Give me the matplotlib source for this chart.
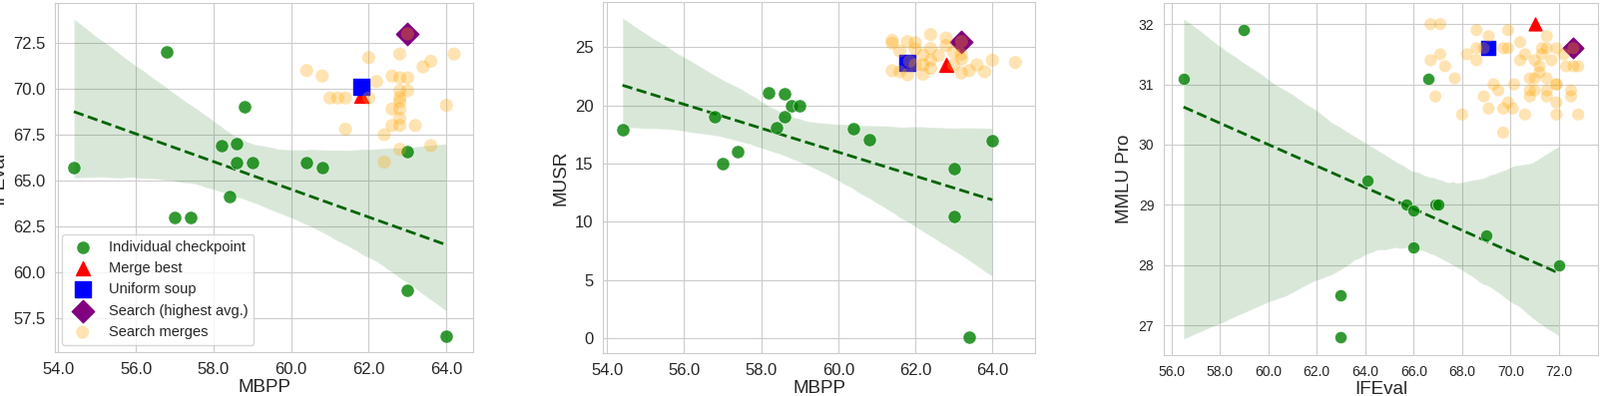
#!/usr/bin/env python3
"""
Merge search vs. individual checkpoints

Three scatter panels with a linear fit over the individual checkpoints.
"""

import matplotlib

matplotlib.use("Agg")
import matplotlib.pyplot as plt
import seaborn as sns
from matplotlib.ticker import FormatStrFormatter

# --- panel 1: MBPP vs IFEval ---
ckpt_mbpp_1 = [54.4, 56.8, 57.0, 57.4, 58.2, 58.4, 58.6, 58.6, 58.8, 59.0, 60.4, 60.8, 63.0, 63.0, 64.0]
ckpt_ifeval_1 = [65.7, 72.0, 63.0, 63.0, 66.9, 64.1, 67.0, 66.0, 69.0, 66.0, 66.0, 65.7, 66.6, 59.0, 56.5]
search_mbpp_1 = [60.4, 60.8, 62.0, 62.8, 64.2, 63.6, 63.4, 62.2, 62.6, 62.8, 63.0, 62.8, 63.0, 61.0,
                 61.2, 61.4, 62.0, 62.8, 62.8, 64.0, 62.6, 62.8, 62.8, 61.4, 62.6, 62.8, 63.2, 62.4,
                 62.8, 63.6, 62.4, 63.0]
search_ifeval_1 = [71.0, 70.7, 71.7, 71.9, 71.9, 71.5, 71.2, 70.4, 70.7, 70.6, 70.6, 69.9, 69.9, 69.5,
                   69.5, 69.5, 69.5, 69.5, 69.3, 69.1, 68.9, 68.9, 68.4, 67.8, 68.0, 68.0, 68.0, 67.5,
                   66.7, 66.9, 66.0, 73.0]
merge_best_1 = (61.8, 69.6)
uniform_soup_1 = (61.8, 70.1)
search_best_1 = (63.0, 73.0)

# --- panel 2: MBPP vs MUSR ---
ckpt_mbpp_2 = [54.4, 56.8, 57.0, 57.4, 58.2, 58.4, 58.6, 58.6, 58.8, 59.0, 60.4, 60.8, 63.0, 63.0, 63.4, 64.0]
ckpt_musr_2 = [17.9, 19.0, 15.0, 16.0, 21.1, 18.1, 21.0, 19.0, 20.0, 20.0, 18.0, 17.1, 14.6, 10.5, 0.1, 17.0]
search_mbpp_2 = [61.4, 61.4, 61.8, 62.0, 62.4, 62.8, 62.8, 62.4, 61.6, 62.0, 62.2, 62.6, 62.4, 63.0,
                 63.2, 63.2, 64.0, 64.6, 63.6, 63.8, 63.4, 63.2, 63.0, 62.4, 62.2, 62.2, 61.8, 61.6,
                 61.4, 62.0, 61.85, 63.2]
search_musr_2 = [25.6, 25.35, 25.5, 25.4, 26.1, 25.8, 25.15, 24.9, 24.7, 24.85, 24.35, 24.3, 23.9, 24.6,
                 24.4, 24.0, 23.9, 23.7, 23.5, 22.9, 23.0, 22.8, 23.5, 23.2, 22.7, 23.5, 22.65, 22.9,
                 23.0, 23.5, 23.8, 25.5]
merge_best_2 = (62.8, 23.5)
uniform_soup_2 = (61.8, 23.7)
search_best_2 = (63.2, 25.5)

# --- panel 3: IFEval vs MMLU Pro ---
ckpt_ifeval_3 = [56.5, 59.0, 63.0, 63.0, 64.1, 65.7, 66.0, 66.0, 66.6, 66.9, 67.0, 69.0, 72.0]
ckpt_mmlu_3 = [31.1, 31.9, 27.5, 26.8, 29.4, 29.0, 28.9, 28.3, 31.1, 29.0, 29.0, 28.5, 28.0]
search_ifeval_3 = [66.7, 67.1, 68.6, 69.1, 69.9, 70.4, 71.5, 68.6, 68.9, 69.7, 69.9, 71.3, 71.5, 71.9,
                   68.2, 67.1, 70.6, 71.3, 72.2, 66.7, 68.6, 70.4, 71.0, 71.7, 67.3, 71.2, 72.3, 72.6,
                   72.8, 71.2, 67.7, 70.8, 71.0, 71.5, 69.3, 70.15, 71.9, 69.5, 70.8, 71.0, 71.5, 72.5,
                   66.9, 68.9, 70.8, 71.5, 72.5, 69.9, 71.9, 69.1, 69.7, 70.1, 68.0, 70.6, 71.9, 72.8,
                   69.7, 71.9, 72.6]
search_mmlu_3 = [32.0, 32.0, 31.9, 31.8, 31.9, 31.7, 31.8, 31.6, 31.6, 31.6, 31.6, 31.6, 31.6, 31.6,
                 31.5, 31.5, 31.5, 31.5, 31.5, 31.4, 31.4, 31.4, 31.4, 31.4, 31.3, 31.3, 31.3, 31.3,
                 31.3, 31.2, 31.1, 31.1, 31.1, 31.1, 31.0, 31.0, 31.0, 30.9, 30.9, 30.9, 30.9, 30.9,
                 30.8, 30.8, 30.8, 30.8, 30.8, 30.7, 30.7, 30.6, 30.6, 30.6, 30.5, 30.5, 30.5, 30.5,
                 30.2, 31.0, 31.6]
merge_best_3 = (71.0, 32.0)
uniform_soup_3 = (69.1, 31.6)
search_best_3 = (72.6, 31.6)


def draw_panel(ax, ckpt_x, ckpt_y, search_x, search_y, merge_best, soup, best,
               xlabel, ylabel, tick_size, label_size, ms=1.0, legend=False):
    sns.regplot(x=ckpt_x, y=ckpt_y, ax=ax, scatter=False, color="green", ci=95, seed=0,
                line_kws={"linestyle": "--", "color": "darkgreen", "linewidth": 2})
    ax.scatter(ckpt_x, ckpt_y, s=90 * ms, color="green", alpha=0.8, edgecolor="white",
               linewidth=0.5, label="Individual checkpoint", zorder=3)
    ax.scatter([merge_best[0]], [merge_best[1]], s=100 * ms, marker="^", color="red",
               label="Merge best", zorder=4)
    ax.scatter([soup[0]], [soup[1]], s=120 * ms, marker="s", color="blue",
               label="Uniform soup", zorder=4)
    ax.scatter([best[0]], [best[1]], s=130 * ms, marker="D", color="purple",
               label="Search (highest avg.)", zorder=4)
    ax.scatter(search_x, search_y, s=90 * ms, color="orange", alpha=0.3, edgecolor="none",
               label="Search merges", zorder=5)

    ax.set_xlabel(xlabel, fontsize=label_size, labelpad=1.5)
    ax.set_ylabel(ylabel, fontsize=label_size)
    ax.tick_params(labelsize=tick_size)
    ax.xaxis.set_major_formatter(FormatStrFormatter("%.1f"))
    if legend:
        ax.legend(loc="lower left", fontsize=10.5, frameon=True)


sns.set_style("whitegrid")
plt.rcParams["font.family"] = ["Liberation Sans", "DejaVu Sans"]

W, H = 1603, 397
fig = plt.figure(figsize=(W / 100, H / 100), dpi=100)
ax1 = fig.add_axes([55 / W, (H - 353) / H, 419 / W, 350 / H])
ax2 = fig.add_axes([604 / W, (H - 354) / H, 433 / W, 352 / H])
ax3 = fig.add_axes([1166 / W, (H - 356) / H, 435 / W, 353 / H])

draw_panel(ax1, ckpt_mbpp_1, ckpt_ifeval_1, search_mbpp_1, search_ifeval_1,
           merge_best_1, uniform_soup_1, search_best_1, "MBPP", "IFEval", 12, 13.5, legend=True)
draw_panel(ax2, ckpt_mbpp_2, ckpt_musr_2, search_mbpp_2, search_musr_2,
           merge_best_2, uniform_soup_2, search_best_2, "MBPP", "MUSR", 12, 13.5)
draw_panel(ax3, ckpt_ifeval_3, ckpt_mmlu_3, search_ifeval_3, search_mmlu_3,
           merge_best_3, uniform_soup_3, search_best_3, "IFEval", "MMLU Pro", 10, 13.5, ms=0.85)
ax1.yaxis.set_major_formatter(FormatStrFormatter("%.1f"))

fig.savefig("out.png", dpi=100)
